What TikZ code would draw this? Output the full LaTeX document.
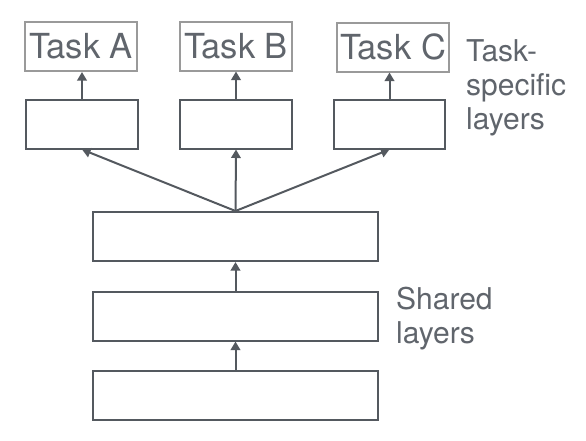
\documentclass[tikz,border=0pt]{standalone}
\usepackage{fontspec}
\setmainfont{TeX Gyre Heros}
\usetikzlibrary{arrows.meta}
\definecolor{boxline}{HTML}{54595F}
\definecolor{taskline}{HTML}{9A9A9A}
\definecolor{txt}{HTML}{60656C}
\tikzset{
  layerbox/.style={draw=boxline, line width=2pt, inner sep=0pt, minimum height=49pt},
  taskbox/.style={draw=taskline, line width=2pt, inner sep=0pt, minimum width=112pt, minimum height=49pt,
    text=txt, font=\fontsize{34.5}{36}\selectfont},
  conn/.style={draw=boxline, line width=2pt, -{Triangle[length=8.5pt,width=9.5pt]}},
  sidelabel/.style={text=txt, inner sep=0pt, anchor=north west, align=left,
    font=\fontsize{30}{34}\selectfont}
}
\begin{document}
\begin{tikzpicture}[x=1pt,y=-1pt]
\useasboundingbox (0,0) rectangle (586,440);
% task outputs
\node[taskbox] (ta) at (81,46.5) {Task A};
\node[taskbox] (tb) at (236,46) {Task B};
\node[taskbox] (tc) at (393,47) {Task C};
% task-specific layers
\node[layerbox, minimum width=112pt] (ma) at (82,124) {};
\node[layerbox, minimum width=112pt] (mb) at (236,124) {};
\node[layerbox, minimum width=111pt] (mc) at (389.5,124) {};
% shared layers
\node[layerbox, minimum width=285pt] (s1) at (235.5,236.5) {};
\node[layerbox, minimum width=285pt] (s2) at (235.5,316) {};
\node[layerbox, minimum width=285pt] (s3) at (235.5,395.5) {};
% connectors
\draw[conn] (ma.north) -- (ma.north |- ta.south);
\draw[conn] (mb.north) -- (mb.north |- tb.south);
\draw[conn] (mc.north) -- (mc.north |- tc.south);
\draw[conn] (s1.north) -- (ma.south);
\draw[conn] (s1.north) -- (mb.south);
\draw[conn] (s1.north) -- (mc.south);
\draw[conn] (s3.north) -- (s2.south);
\draw[conn] (s2.north) -- (s1.south);
% labels
\node[sidelabel] (lt) at (466,39) {Task-\\specific\\layers};
\node[sidelabel] (ls) at (396,287) {Shared\\layers};
\end{tikzpicture}
\end{document}
